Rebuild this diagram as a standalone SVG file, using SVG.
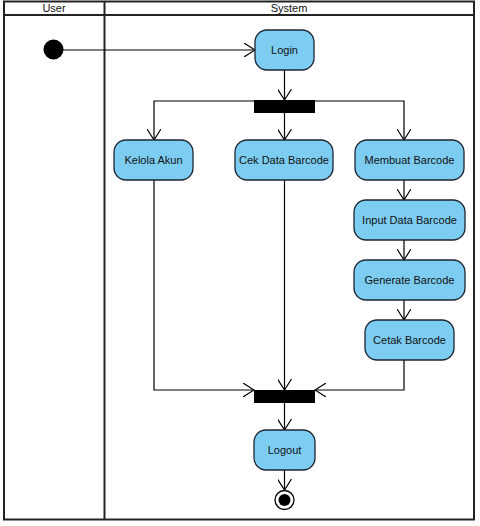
<svg xmlns="http://www.w3.org/2000/svg" width="480" height="526" viewBox="0 0 480 526">
<style>
.frame{fill:none;stroke:#222;stroke-width:2}
.hdr{font-family:"Liberation Sans",Arial,sans-serif;font-size:11px;fill:#111;text-anchor:middle}
.act{fill:#7dcdf3;stroke:#1c2530;stroke-width:1.3}
.lbl{font-family:"Liberation Sans",Arial,sans-serif;font-size:11px;fill:#111;text-anchor:middle;dominant-baseline:central}
.bar{fill:#000}
.con{fill:none;stroke:#000;stroke-width:1.2;marker-end:url(#arr)}
.seg{fill:none;stroke:#000;stroke-width:1.2}
</style>
<defs>
<marker id="arr" viewBox="0 0 12 14" refX="11" refY="7" markerWidth="12" markerHeight="14" markerUnits="userSpaceOnUse" orient="auto">
<path d="M0,0 L11,7 L0,14" fill="none" stroke="#000" stroke-width="1.2"/>
</marker>
</defs>
<rect width="480" height="526" fill="#fff"/>
<g id="swimlanes">
<rect class="frame" x="4" y="1.5" width="470" height="518"/>
<line class="frame" x1="4" y1="15" x2="474" y2="15"/>
<line class="frame" x1="104.5" y1="1.5" x2="104.5" y2="519.5"/>
<text class="hdr" x="54" y="12">User</text>
<text class="hdr" x="289" y="12">System</text>
</g>
<g id="connectors">
<line class="con" x1="63" y1="50" x2="255" y2="50"/>
<line class="con" x1="284.5" y1="70" x2="284.5" y2="100"/>
<polyline class="con" points="254,101 154,101 154,140"/>
<line class="con" x1="284.5" y1="113" x2="284.5" y2="140"/>
<polyline class="con" points="315,101 404,101 404,140"/>
<line class="con" x1="404" y1="180" x2="404" y2="200"/>
<line class="con" x1="404" y1="240" x2="404" y2="260"/>
<line class="con" x1="404" y1="300" x2="404" y2="320"/>
<polyline class="con" points="154,180 154,390 254,390"/>
<line class="con" x1="284.5" y1="180" x2="284.5" y2="390"/>
<polyline class="con" points="404,360 404,390 315,390"/>
<line class="con" x1="284.5" y1="403" x2="284.5" y2="430"/>
<line class="con" x1="284.5" y1="470" x2="284.5" y2="490"/>
</g>
<g id="initial"><circle cx="53.5" cy="49.5" r="10" fill="#000"/></g>
<g id="login"><rect class="act" x="255" y="30" width="59" height="40" rx="12"/><text class="lbl" x="284.5" y="50">Login</text></g>
<g id="fork"><rect class="bar" x="254" y="100" width="61" height="13"/></g>
<g id="kelola"><rect class="act" x="114" y="140" width="79" height="40" rx="12"/><text class="lbl" x="153.5" y="160">Kelola Akun</text></g>
<g id="cek"><rect class="act" x="235" y="140" width="98" height="40" rx="12"/><text class="lbl" x="284" y="160">Cek Data Barcode</text></g>
<g id="membuat"><rect class="act" x="355" y="140" width="109" height="40" rx="12"/><text class="lbl" x="409.5" y="160">Membuat Barcode</text></g>
<g id="input"><rect class="act" x="354" y="200" width="111" height="40" rx="12"/><text class="lbl" x="409.5" y="220">Input Data Barcode</text></g>
<g id="generate"><rect class="act" x="354" y="260" width="111" height="40" rx="12"/><text class="lbl" x="409.5" y="280">Generate Barcode</text></g>
<g id="cetak"><rect class="act" x="365" y="320" width="89" height="40" rx="12"/><text class="lbl" x="409.5" y="340">Cetak Barcode</text></g>
<g id="join"><rect class="bar" x="254" y="390" width="61" height="13"/></g>
<g id="logout"><rect class="act" x="254" y="430" width="61" height="40" rx="12"/><text class="lbl" x="284.5" y="450">Logout</text></g>
<g id="final"><circle cx="284.5" cy="500" r="9.5" fill="#fff" stroke="#000" stroke-width="1.3"/><circle cx="284.5" cy="500" r="6" fill="#000"/></g>
</svg>
